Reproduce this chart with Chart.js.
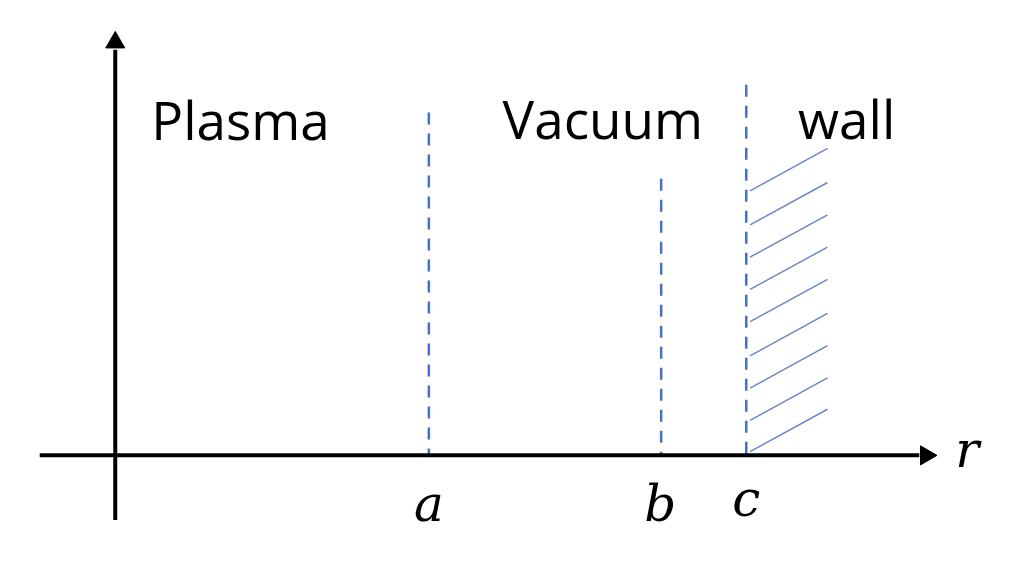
<!DOCTYPE html>
<html><head><meta charset="utf-8">
<script src="https://cdn.jsdelivr.net/npm/chart.js@4"></script>
<style>html,body{margin:0;padding:0;background:#fff}#w{width:1025px;height:566px}</style>
</head><body><div id="w"><canvas id="c"></canvas></div>
<script>
// schematic coordinates (x right, y down)
const rAxis = [[18,470],[938,470]];
const vAxis = [[97,540],[97,30]];
const lineA = [[425,98],[425,470]];
const lineB = [[668,170],[668,470]];
const lineC = [[757,68],[757,470]];
const hatchLeftY = [183,220,255,290,325,362,397,432,466];
const hatchDrop = 46;
const regionLabels = [["Plasma",228,112],["Vacuum",607,110],["wall",862,110]];
const posLabels = [["a",425,527],["b",667,527],["c",757,522],["r",988,468]];

const pts = a => a.map(p => ({x:p[0], y:p[1]}));
const blue = '#4472C4';
const ds = [
  {data:pts(rAxis), borderColor:'#000', borderWidth:4},
  {data:pts(vAxis), borderColor:'#000', borderWidth:4},
  {data:[{x:945,y:470}], pointStyle:'triangle', rotation:90, pointRadius:11, backgroundColor:'#000', borderColor:'#000', showLine:false},
  {data:[{x:97,y:22}], pointStyle:'triangle', rotation:0, pointRadius:11, backgroundColor:'#000', borderColor:'#000', showLine:false},
  {data:pts(lineA), borderColor:blue, borderWidth:2.5, borderDash:[12,9]},
  {data:pts(lineB), borderColor:blue, borderWidth:2.5, borderDash:[12,9]},
  {data:pts(lineC), borderColor:blue, borderWidth:2.5, borderDash:[12,9]},
];
hatchLeftY.forEach(y => ds.push({data:[{x:761,y:y},{x:842,y:y-hatchDrop}], borderColor:'#6a86c8', borderWidth:1.5}));
ds.forEach(d => { if (d.pointRadius===undefined) d.pointRadius = 0; d.fill=false; });

const textPlugin = {id:'txt', afterDraw(ch){
  const c = ch.ctx, xs = ch.scales.x, ys = ch.scales.y;
  c.save(); c.fillStyle='#000'; c.textAlign='center'; c.textBaseline='middle';
  c.font = '53px "Open Sans", "Liberation Sans", sans-serif';
  regionLabels.forEach(([t,x,y]) => c.fillText(t, xs.getPixelForValue(x), ys.getPixelForValue(y)));
  c.font = 'italic 50px "DejaVu Serif", "Liberation Serif", serif';
  posLabels.forEach(([t,x,y]) => c.fillText(t, xs.getPixelForValue(x), ys.getPixelForValue(y)));
  c.restore();
}};

new Chart(document.getElementById('c'), {
  type:'scatter',
  data:{datasets:ds.map(d => Object.assign({showLine: d.showLine!==false}, d))},
  options:{responsive:true, maintainAspectRatio:false, animation:false,
    layout:{padding:0},
    plugins:{legend:{display:false}, tooltip:{enabled:false}},
    scales:{x:{type:'linear', min:-11, max:1036, display:false},
            y:{type:'linear', min:-11, max:577, reverse:true, display:false}}},
  plugins:[textPlugin]
});
</script></body></html>
